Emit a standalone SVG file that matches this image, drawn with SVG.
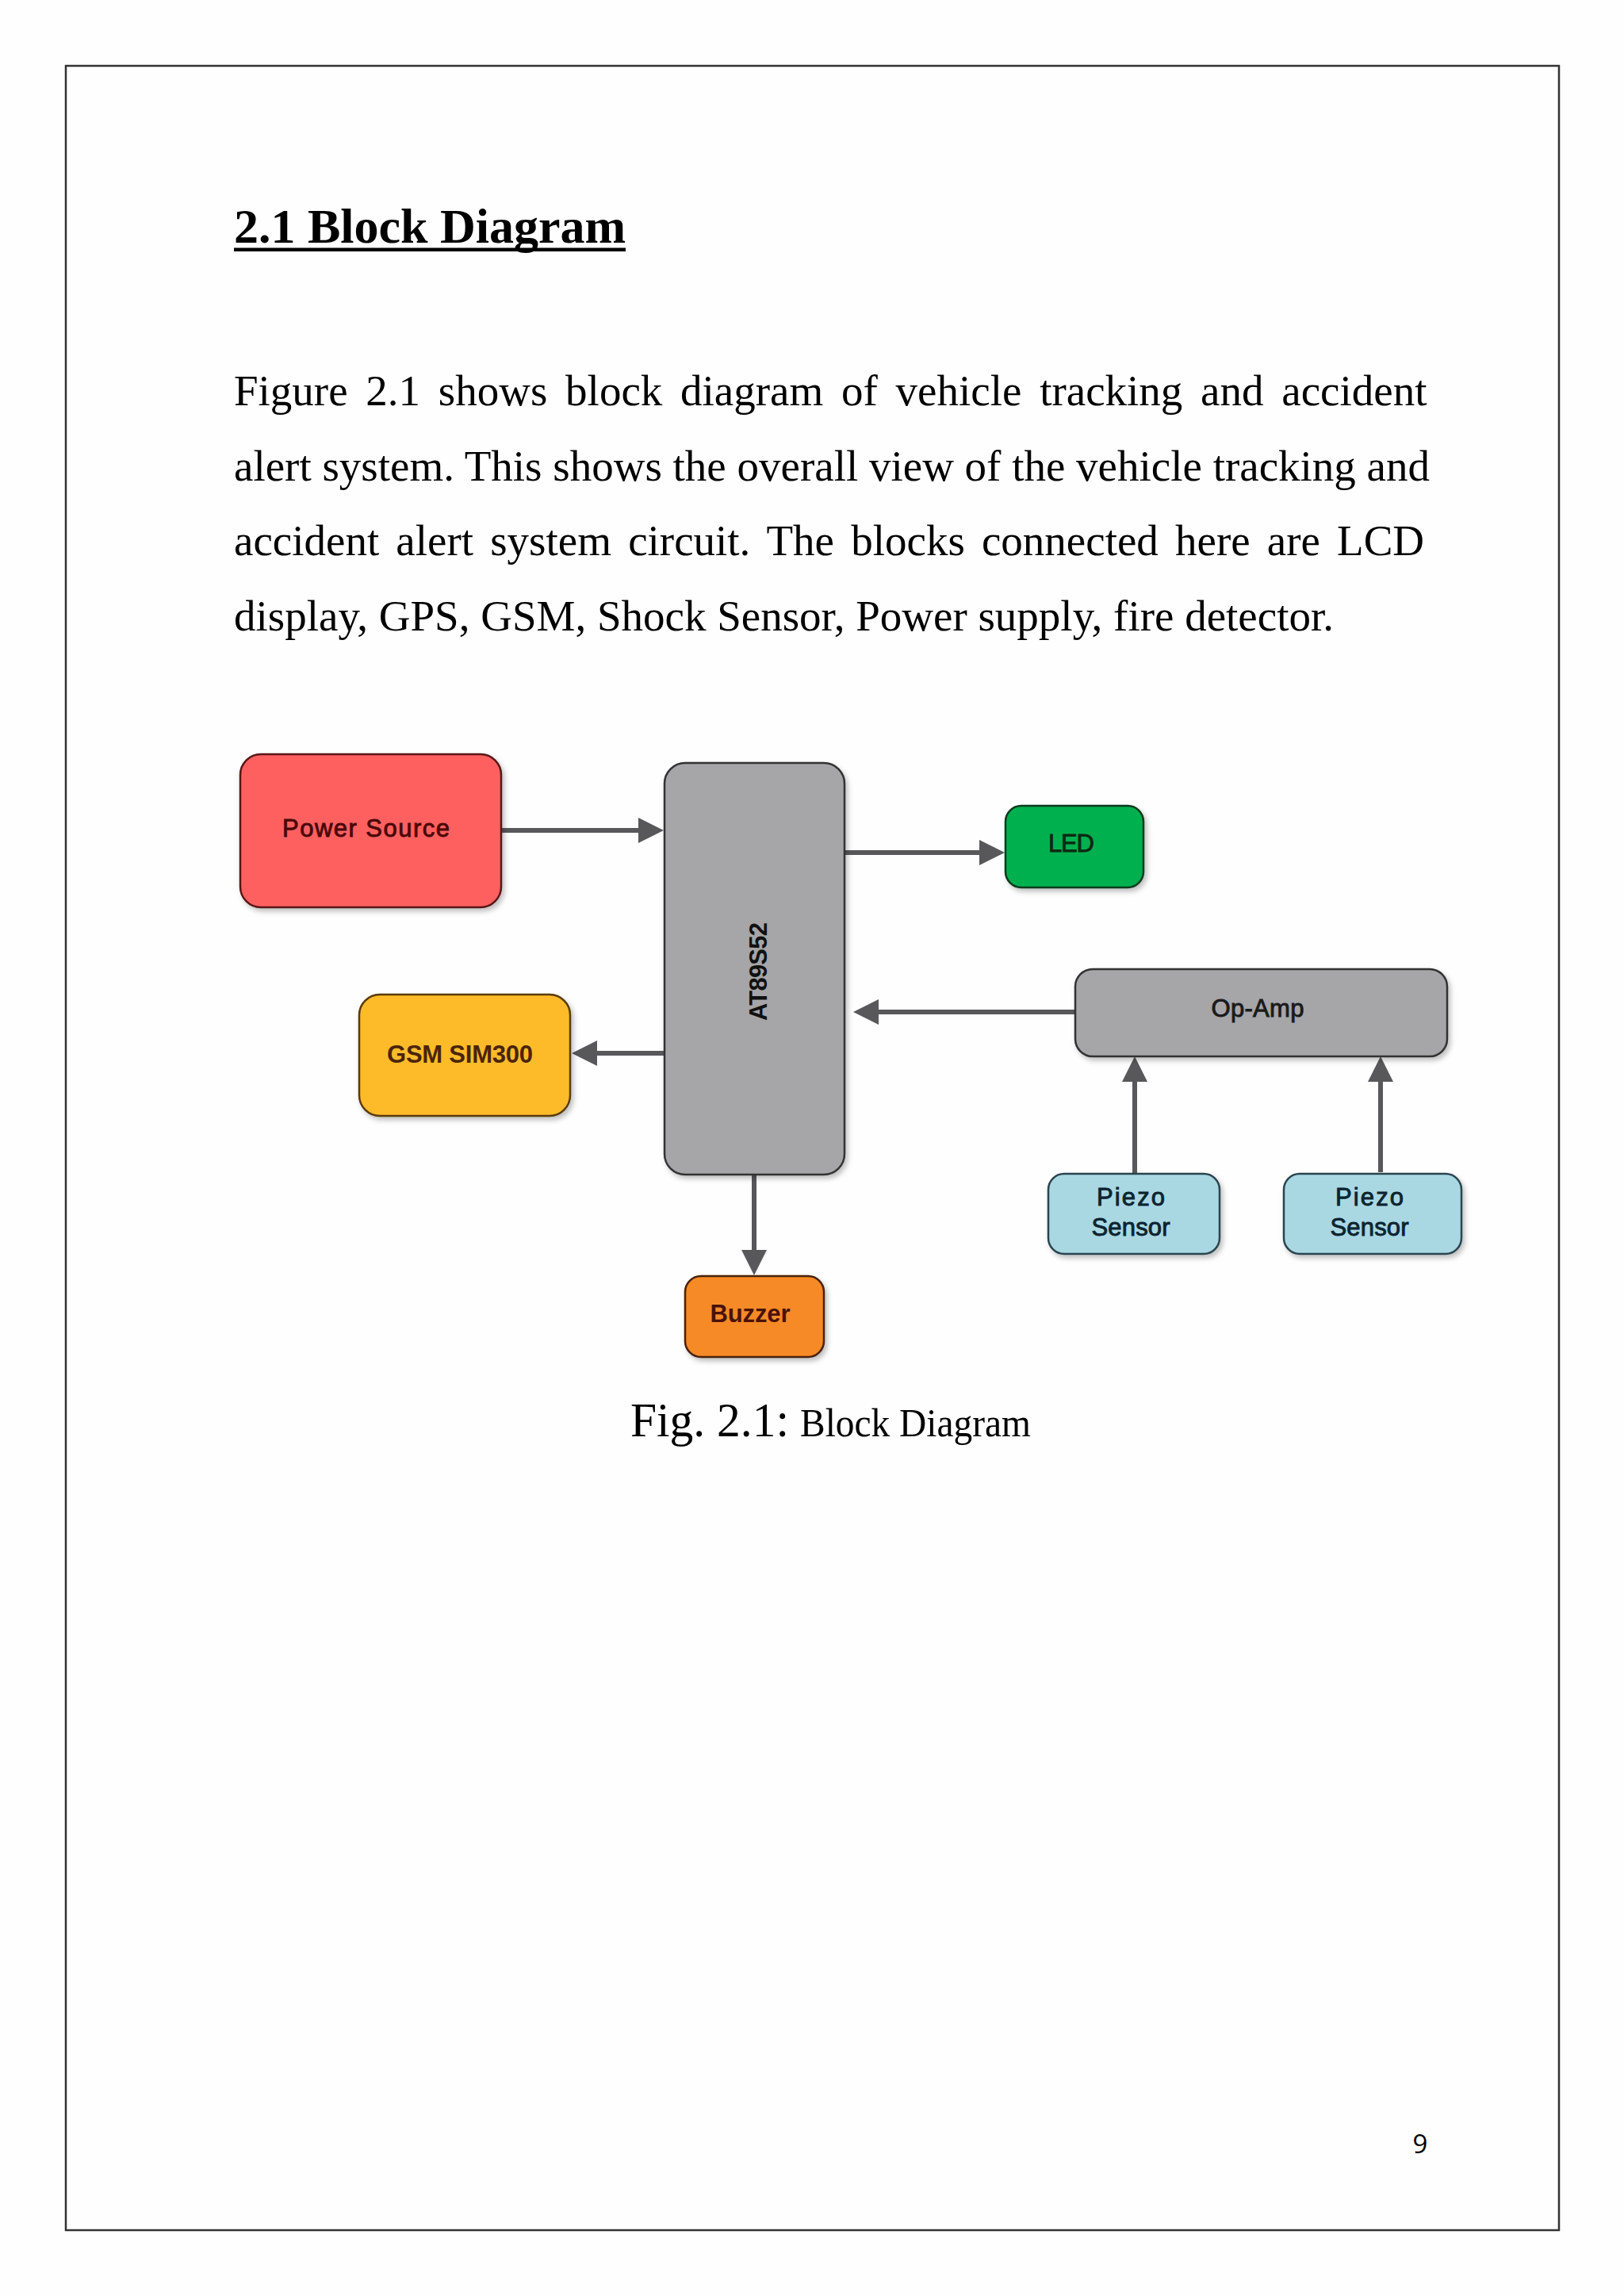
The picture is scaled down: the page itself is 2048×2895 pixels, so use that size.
<svg xmlns="http://www.w3.org/2000/svg" width="2048" height="2895" viewBox="0 0 2048 2895">
<style>
.body{font-family:"Liberation Serif","Times New Roman",serif;font-size:55px;fill:#000}
.title{font-family:"Liberation Serif","Times New Roman",serif;font-size:62px;font-weight:bold;fill:#000}
.cap{font-family:"Liberation Serif","Times New Roman",serif;fill:#000}
.node{stroke-width:2.5}
.lbl{font-family:"Liberation Sans",Arial,sans-serif;font-size:31px;text-anchor:middle;stroke-width:0.9}
.b{font-weight:bold;stroke-width:0}
.conn{stroke:#58585a;stroke-width:6;fill:none}
</style>
<defs>
<marker id="ah" viewBox="0 0 32 32" markerWidth="32" markerHeight="32" refX="0" refY="16" orient="auto" markerUnits="userSpaceOnUse">
<path d="M0,0 L32,16 L0,32 z" fill="#58585a"/>
</marker>
<filter id="sh" x="-10%" y="-10%" width="130%" height="130%">
<feDropShadow dx="3" dy="4" stdDeviation="3" flood-color="#000" flood-opacity="0.25"/>
</filter>
</defs>
<rect x="0" y="0" width="2048" height="2895" fill="#fefefe"/>
<rect x="83" y="83" width="1883" height="2729" fill="none" stroke="#333" stroke-width="2.5"/>
<g id="heading">
<text class="title" x="295" y="306">2.1 Block Diagram</text>
<rect x="295" y="312.5" width="494" height="4.5" fill="#000"/>
</g>
<g id="paragraph">
<text class="body" x="295" y="511" word-spacing="9">Figure 2.1 shows block diagram of vehicle tracking and accident</text>
<text class="body" x="295" y="606">alert system. This shows the overall view of the vehicle tracking and</text>
<text class="body" x="295" y="700" word-spacing="7.4">accident alert system circuit. The blocks connected here are LCD</text>
<text class="body" x="295" y="795">display, GPS, GSM, Shock Sensor, Power supply, fire detector.</text>
</g>
<g id="connectors">
<line class="conn" x1="632" y1="1047" x2="805" y2="1047" marker-end="url(#ah)"/>
<line class="conn" x1="1065" y1="1075" x2="1235" y2="1075" marker-end="url(#ah)"/>
<line class="conn" x1="1356" y1="1276" x2="1108" y2="1276" marker-end="url(#ah)"/>
<line class="conn" x1="838" y1="1328" x2="753" y2="1328" marker-end="url(#ah)"/>
<line class="conn" x1="951" y1="1481" x2="951" y2="1576" marker-end="url(#ah)"/>
<line class="conn" x1="1431" y1="1479" x2="1431" y2="1364" marker-end="url(#ah)"/>
<line class="conn" x1="1741" y1="1478" x2="1741" y2="1364" marker-end="url(#ah)"/>
</g>
<g id="power-source">
<rect class="node" x="303" y="951" width="329" height="193" rx="26" fill="#fe6161" stroke="#5a1818" filter="url(#sh)"/>
<text class="lbl" x="461.5" y="1055" fill="#4a0808" stroke="#4a0808" textLength="211">Power Source</text>
</g>
<g id="at89s52">
<rect class="node" x="838" y="962" width="227" height="519" rx="26" fill="#a6a5a8" stroke="#333" filter="url(#sh)"/>
<text class="lbl b" transform="translate(967,1225) rotate(-90)" x="0" y="0" fill="#111" font-size="33" textLength="124">AT89S52</text>
</g>
<g id="led">
<rect class="node" x="1268" y="1016" width="174" height="103" rx="20" fill="#00b050" stroke="#0d3a1c" filter="url(#sh)"/>
<text class="lbl" x="1351" y="1074" fill="#0a2a12" stroke="#0a2a12" font-size="30" textLength="58">LED</text>
</g>
<g id="op-amp">
<rect class="node" x="1356" y="1222" width="469" height="110" rx="22" fill="#a6a5a8" stroke="#333" filter="url(#sh)"/>
<text class="lbl" x="1586" y="1282" fill="#1a1a1a" stroke="#1a1a1a" textLength="117">Op-Amp</text>
</g>
<g id="gsm-sim300">
<rect class="node" x="453" y="1254" width="266" height="153" rx="26" fill="#fdbb2c" stroke="#5a3a08" filter="url(#sh)"/>
<text class="lbl b" x="580" y="1340" fill="#4a2408" textLength="184">GSM SIM300</text>
</g>
<g id="piezo-sensor-1">
<rect class="node" x="1322" y="1480" width="216" height="101" rx="20" fill="#a9d8e3" stroke="#2b4550" filter="url(#sh)"/>
<text class="lbl" x="1426" y="1520" fill="#0c2430" stroke="#0c2430" textLength="86">Piezo</text>
<text class="lbl" x="1426" y="1558" fill="#0c2430" stroke="#0c2430" textLength="99">Sensor</text>
</g>
<g id="piezo-sensor-2">
<rect class="node" x="1619" y="1480" width="224" height="101" rx="20" fill="#a9d8e3" stroke="#2b4550" filter="url(#sh)"/>
<text class="lbl" x="1727" y="1520" fill="#0c2430" stroke="#0c2430" textLength="86">Piezo</text>
<text class="lbl" x="1727" y="1558" fill="#0c2430" stroke="#0c2430" textLength="99">Sensor</text>
</g>
<g id="buzzer">
<rect class="node" x="864" y="1609" width="175" height="102" rx="20" fill="#f58a25" stroke="#4a2008" filter="url(#sh)"/>
<text class="lbl b" x="946" y="1667" fill="#4a1208" textLength="101">Buzzer</text>
</g>
<g id="caption">
<text class="cap" x="795" y="1811" font-size="61" textLength="200" lengthAdjust="spacingAndGlyphs">Fig. 2.1:</text>
<text class="cap" x="1009" y="1811" font-size="51" textLength="291" lengthAdjust="spacingAndGlyphs">Block Diagram</text>
</g>
<text x="1791" y="2715" font-family="'Open Sans','DejaVu Sans',sans-serif" font-size="33" text-anchor="middle" fill="#000">9</text>
</svg>
